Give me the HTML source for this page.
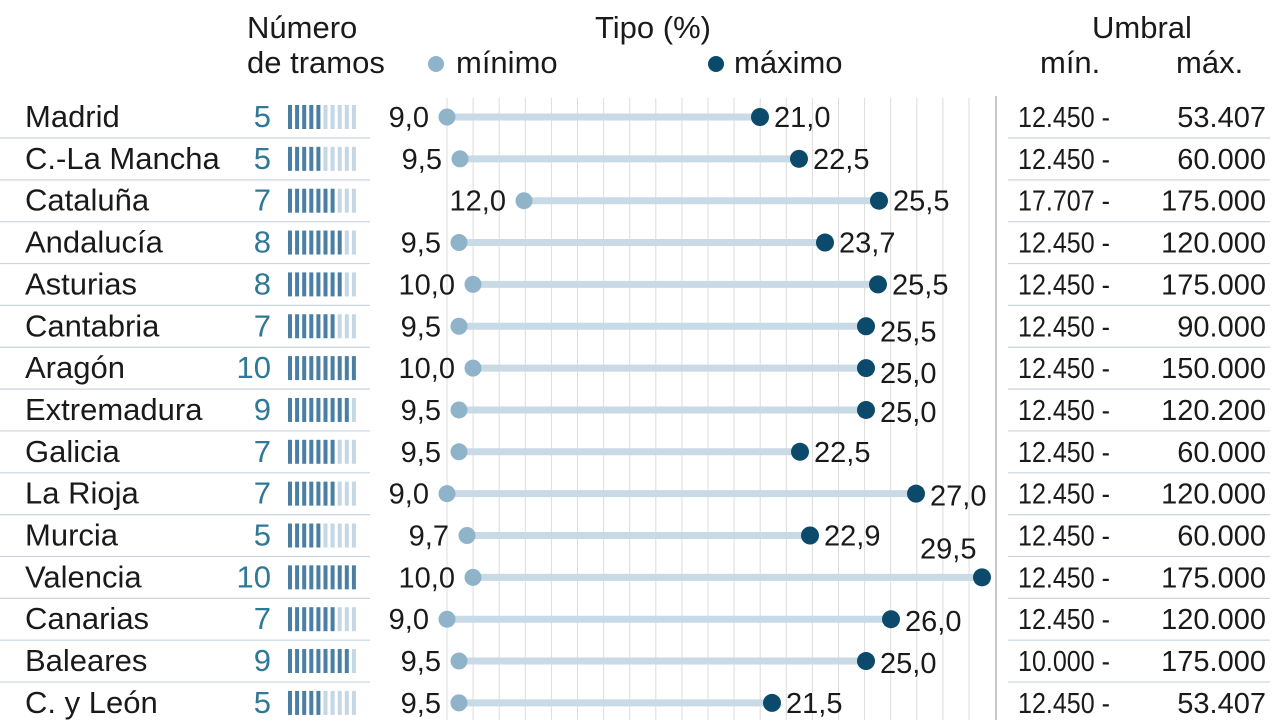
<!DOCTYPE html>
<html><head><meta charset="utf-8"><style>
html,body{margin:0;padding:0;background:#fff;}
svg{display:block;}
text{font-family:"Liberation Sans",sans-serif;font-size:29px;fill:#1a1a1a;}
.n{font-size:31px;}
</style></head><body>
<svg width="1279" height="720" viewBox="0 0 1279 720" xmlns="http://www.w3.org/2000/svg" id="s">
<text class="n" x="247" y="38">Número</text>
<text class="n" x="247" y="73">de tramos</text>
<circle cx="436" cy="64" r="8" fill="#8fb4c9"/>
<text class="n" x="456" y="73">mínimo</text>
<text class="n" x="595" y="38">Tipo (%)</text>
<circle cx="716" cy="64" r="8" fill="#0b4a6b"/>
<text class="n" x="734" y="73">máximo</text>
<text class="n" x="1092" y="38">Umbral</text>
<text class="n" x="1040" y="73">mín.</text>
<text class="n" x="1176" y="73">máx.</text>
<line x1="996" y1="96" x2="996" y2="720" stroke="#b5b5b5" stroke-width="1.5"/>
<g id="rows"></g>
</svg>
<script>
var d=[["Madrid",5,447,760,"9,0","21,0","12.450 -","53.407",0,0],
["C.-La Mancha",5,460,799,"9,5","22,5","12.450 -","60.000",0,0],
["Cataluña",7,524,879,"12,0","25,5","17.707 -","175.000",0,0],
["Andalucía",8,459,825,"9,5","23,7","12.450 -","120.000",0,0],
["Asturias",8,473,878,"10,0","25,5","12.450 -","175.000",0,0],
["Cantabria",7,459,866,"9,5","25,5","12.450 -","90.000",0,5],
["Aragón",10,473,866,"10,0","25,0","12.450 -","150.000",0,5],
["Extremadura",9,459,866,"9,5","25,0","12.450 -","120.200",0,2],
["Galicia",7,459,800,"9,5","22,5","12.450 -","60.000",0,0],
["La Rioja",7,447,916,"9,0","27,0","12.450 -","120.000",0,2],
["Murcia",5,467,810,"9,7","22,9","12.450 -","60.000",0,0],
["Valencia",10,473,982,"10,0","29,5","12.450 -","175.000",0,-29],
["Canarias",7,447,891,"9,0","26,0","12.450 -","120.000",0,2],
["Baleares",9,459,866,"9,5","25,0","10.000 -","175.000",0,2],
["C. y León",5,459,772,"9,5","21,5","12.450 -","53.407",0,0]];
var g=document.getElementById("rows"),h="";
for(var k=0;k<=20;k++){var x=447+k*26.1;h+='<line x1="'+x+'" y1="98" x2="'+x+'" y2="720" stroke="#dcdcdc" stroke-width="1"/>';}
d.forEach(function(r,i){
var y=117+i*41.85,b=y+10;
if(i<14){h+='<line x1="0" y1="'+(y+21)+'" x2="370" y2="'+(y+21)+'" stroke="#c9d6de" stroke-width="1.2"/>';
h+='<line x1="1008" y1="'+(y+21)+'" x2="1270" y2="'+(y+21)+'" stroke="#c9d6de" stroke-width="1.2"/>';}
h+='<text class="n" x="25" y="'+b+'">'+r[0]+'</text>';
h+='<text class="n" x="271" y="'+b+'" text-anchor="end" style="fill:#2f7896">'+r[1]+'</text>';
for(var j=0;j<10;j++){h+='<rect x="'+(288+j*7.1)+'" y="'+(y-12)+'" width="4" height="24" fill="'+(j<r[1]?'#4a7fa3':'#c3d7e4')+'"/>';}
h+='<line x1="'+r[2]+'" y1="'+y+'" x2="'+r[3]+'" y2="'+y+'" stroke="#c8dae5" stroke-width="7"/>';
h+='<circle cx="'+r[2]+'" cy="'+y+'" r="8.5" fill="#8fb4c9"/>';
h+='<circle cx="'+r[3]+'" cy="'+y+'" r="9" fill="#0b4a6b"/>';
h+='<text x="'+(r[2]-18)+'" y="'+(b+r[8])+'" text-anchor="end">'+r[4]+'</text>';
var mx=r[3]+14;if(r[9]==-29)mx=r[3]-62;
h+='<text x="'+mx+'" y="'+(b+r[9])+'">'+r[5]+'</text>';
h+='<text x="1018" y="'+b+'" textLength="92" lengthAdjust="spacingAndGlyphs">'+r[6]+'</text>';
h+='<text x="1266" y="'+b+'" text-anchor="end">'+r[7]+'</text>';
});
g.innerHTML=h;
</script>
</body></html>
